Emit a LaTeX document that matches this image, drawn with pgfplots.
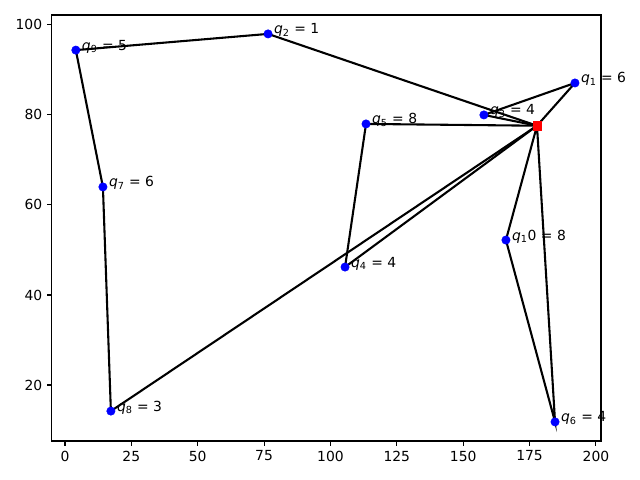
\documentclass[border=0pt]{standalone}
\usepackage{fontspec}
\setmainfont{DejaVu Sans}
\usepackage{pgfplots}
\pgfplotsset{compat=1.18}
\newcommand{\lbl}[3]{\node[anchor=base west, inner sep=0pt, font=\fontsize{10}{12}\selectfont] at (axis cs:#1,#2) {#3};}
\begin{document}
\begin{tikzpicture}
\begin{axis}[scale only axis, width=395.3pt, height=306.7pt,
  xmin=-4.9, xmax=201.9, ymin=7.56, ymax=102.2,
  xtick={0,25,...,200}, ytick={20,40,...,100},
  tick align=outside, tick pos=left, major tick length=3.5pt,
  axis line style={line width=0.8pt},
  every tick/.style={black, line width=0.8pt},
  tick label style={font=\fontsize{10}{12}\selectfont},
  /pgf/number format/assume math mode=true,
  clip=false]
\addplot[only marks, mark=*, mark size=3pt, draw=blue, fill=blue] coordinates {
(192.1,87.1) (76.5,98.0) (157.8,80.0) (105.5,46.2) (113.4,78.0)
(184.6,11.8) (14.3,64.0) (17.3,14.2) (4.1,94.4) (166.1,52.2)};
\addplot[only marks, mark=square*, mark size=3pt, draw=red, fill=red] coordinates {(177.8,77.6)};
\addplot[black, line width=1.5pt] coordinates {(177.8,77.6) (192.1,87.1) (157.8,80.0) (177.8,77.6)};
\addplot[black, line width=1.5pt] coordinates {(177.8,77.6) (76.5,98.0) (4.1,94.4) (14.3,64.0) (17.3,14.2) (177.8,77.6)};
\addplot[black, line width=1.5pt] coordinates {(177.8,77.6) (113.4,78.0) (105.5,46.2) (177.8,77.6)};
\addplot[black, line width=1.5pt] coordinates {(177.8,77.6) (166.1,52.2) (184.6,11.8) (177.8,77.6)};
\lbl{194.3}{87.1}{\textit{q}\textsubscript{1} = 6}
\lbl{78.7}{98.0}{\textit{q}\textsubscript{2} = 1}
\lbl{160.0}{80.0}{\textit{q}\textsubscript{3} = 4}
\lbl{107.7}{46.2}{\textit{q}\textsubscript{4} = 4}
\lbl{115.6}{78.0}{\textit{q}\textsubscript{5} = 8}
\lbl{186.8}{11.8}{\textit{q}\textsubscript{6} = 4}
\lbl{16.5}{64.0}{\textit{q}\textsubscript{7} = 6}
\lbl{19.5}{14.2}{\textit{q}\textsubscript{8} = 3}
\lbl{6.3}{94.4}{\textit{q}\textsubscript{9} = 5}
\lbl{168.3}{52.2}{\textit{q}\textsubscript{1}0 = 8}
\end{axis}
\pgfresetboundingbox
\path[use as bounding box] ([xshift=-37.4pt,yshift=-28.1pt]current axis.south west) rectangle ([xshift=28.1pt,yshift=10.8pt]current axis.north east);
\end{tikzpicture}
\end{document}
